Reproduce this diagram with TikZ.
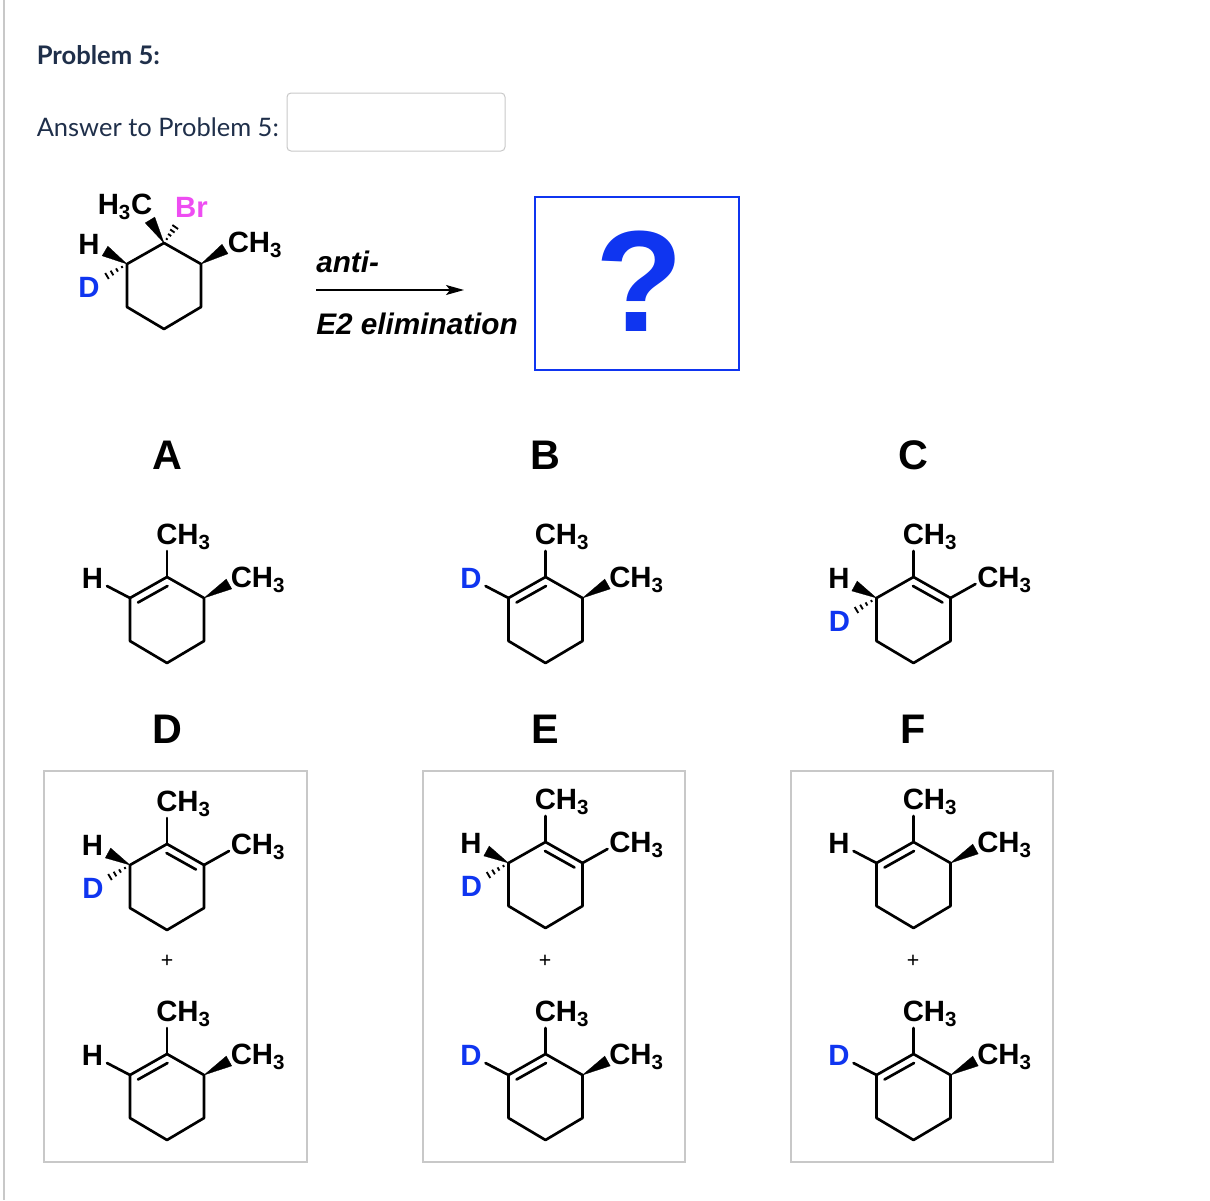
\documentclass[tikz,border=0pt]{standalone}
\usepackage{fontspec}
\setmainfont{Liberation Sans}
\newfontfamily\latofont{Lato}
\usetikzlibrary{arrows.meta, calc}
\definecolor{inkblue}{HTML}{1F2F4A}
\definecolor{deut}{HTML}{0F35F0}
\definecolor{brom}{HTML}{EE4DF2}
\definecolor{panel}{HTML}{C8C8C8}
\tikzset{
  bond/.style={line width=2pt, line join=round, line cap=round},
  wedge/.style={fill=black, draw=black, line width=0.2pt},
  hashbond/.style={line width=1.4pt},
  atom/.style={font=\fontsize{22}{22}\selectfont\bfseries, inner sep=0pt, anchor=center},
  letter/.style={font=\fontsize{31}{31}\selectfont\bfseries, inner sep=0pt},
  panelbox/.style={draw=panel, line width=0.9pt},
}
% bold wedge: narrow end at #1, wide end at #2
\newcommand{\wedgebond}[2]{
  \fill[wedge] (#1) -- ($(#2)!4.2pt!90:(#1)$) -- ($(#2)!4.2pt!-90:(#1)$) -- cycle;
}
% hashed wedge
\newcommand{\hashwedge}[2]{
  \foreach \t/\w in {0.2/0.8, 0.4/1.4, 0.6/2, 0.8/2.6, 1/3.2}{
    \draw[hashbond] ($(#1)!\t!(#2)!\w pt!90:(#2)$) -- ($(#1)!\t!(#2)!\w pt!-90:(#2)$);
  }
}
% bare ring, atoms a..f from the top clockwise
\newcommand{\ringcore}[1]{
  \coordinate (#1a) at (0,0);
  \coordinate (#1b) at (37,21);
  \coordinate (#1c) at (37,64);
  \coordinate (#1d) at (0,86);
  \coordinate (#1e) at (-37,64);
  \coordinate (#1f) at (-37,21);
  \draw[bond] (#1a) -- (#1b) -- (#1c) -- (#1d) -- (#1e) -- (#1f) -- cycle;
}
% #1 name, #2 x, #3 y, #4 double bond side, #5 left group, #6 wedge on the right
\newcommand{\product}[6]{
  \begin{scope}[shift={(#2,#3)}]
    \ringcore{#1}
    \ifnum#4=0
      \draw[bond] (-29,25.5) -- (0.5,9);
    \else
      \draw[bond] (-0.5,9) -- (29,25.5);
    \fi
    \coordinate (#1m) at (0,-26);
    \draw[bond] (#1a) -- (#1m);
    \node[atom] (#1top) at (16.5,-40) {CH\textsubscript{3}};
    \node[atom] (#1rgt) at (91,3) {CH\textsubscript{3}};
    \coordinate (#1rb) at (62,7);
    \ifnum#6=1
      \wedgebond{#1b}{#1rb}
    \else
      \draw[bond] (#1b) -- (#1rb);
    \fi
    \ifnum#5=0
      \node[atom] (#1h) at (-74.5,1) {H};
      \coordinate (#1lb) at (-60,9);
      \draw[bond] (#1f) -- (#1lb);
    \fi
    \ifnum#5=1
      \node[atom, text=deut] (#1h) at (-74.5,1) {D};
      \coordinate (#1lb) at (-60,9);
      \draw[bond] (#1f) -- (#1lb);
    \fi
    \ifnum#5=2
      \node[atom] (#1h) at (-74.5,1) {H};
      \node[atom, text=deut] (#1d2) at (-74,44.5) {D};
      \coordinate (#1lb) at (-59,9);
      \coordinate (#1hb) at (-62,36);
      \wedgebond{#1f}{#1lb}
      \hashwedge{#1f}{#1hb}
    \fi
  \end{scope}
}
\begin{document}
\begin{tikzpicture}[x=0.75pt, y=-0.75pt]
\useasboundingbox (0,0) rectangle (1210,1200);
\draw[panel, line width=0.9pt] (4,0) -- (4,1200);
% header
\node[anchor=west, inner sep=0pt, text=inkblue, font=\latofont\bfseries\fontsize{19.2}{19}\selectfont] (title) at (36.5,55) {Problem 5:};
\node[anchor=west, inner sep=0pt, text=inkblue, font=\latofont\fontsize{19.1}{19}\selectfont] (answer) at (36.5,127) {Answer to Problem 5:};
\draw[panel, line width=0.75pt, rounded corners=3pt] (287,93) rectangle (505,151);
% starting material
\begin{scope}[shift={(164,243)}]
  \ringcore{s}
  \node[atom] (sme) at (-39,-36) {H\textsubscript{3}C};
  \node[atom, text=brom] (sbr) at (27.5,-36) {Br};
  \node[atom] (sch) at (91,2) {CH\textsubscript{3}};
  \node[atom] (sh) at (-75,1) {H};
  \node[atom, text=deut] (sd) at (-75,44.5) {D};
  \coordinate (sw1) at (-14,-23);
  \coordinate (sw2) at (14,-20);
  \coordinate (sw3) at (61,6);
  \coordinate (sw4) at (-59,8);
  \coordinate (sw5) at (-62,36);
  \wedgebond{sa}{sw1}
  \hashwedge{sa}{sw2}
  \wedgebond{sb}{sw3}
  \wedgebond{sf}{sw4}
  \hashwedge{sf}{sw5}
\end{scope}
% reaction arrow
\node[anchor=west, inner sep=0pt, font=\bfseries\itshape\fontsize{22.3}{22}\selectfont] (anti) at (316,262) {anti-};
\node[anchor=west, inner sep=0pt, font=\bfseries\itshape\fontsize{22.3}{22}\selectfont] (elim) at (316,324) {E2 elimination};
\coordinate (arrs) at (316,290);
\coordinate (arre) at (464,290);
\draw[line width=1pt, -{Stealth[length=13.5pt,width=7.5pt,inset=3pt]}] (arrs) -- (arre);
\draw[deut, line width=1.2pt] (535,197) rectangle (739,370);
\node[text=deut, inner sep=0pt, font=\bfseries\fontsize{108}{108}\selectfont] (ask) at (639,281) {?};
% option letters
\foreach \n/\lbl/\x/\y in {la/A/167/455, lb/B/545/455, lc/C/913/455, ld/D/167/729, le/E/545/729, lf/F/913/729}{
  \node[letter] (\n) at (\x,\y) {\lbl};
}
% panels
\draw[panelbox] (44,771) rectangle (307,1162);
\draw[panelbox] (423,771) rectangle (685,1162);
\draw[panelbox] (791,771) rectangle (1053,1162);
\foreach \n/\x in {pd/167, pe/545, pf/913}{
  \node[inner sep=0pt, font=\fontsize{16}{16}\selectfont] (\n) at (\x,961) {+};
}
% products
\product{a}{167}{577}{0}{0}{1}
\product{b}{545.5}{577}{0}{1}{1}
\product{c}{913.5}{577}{1}{2}{0}
\product{d}{167}{844}{1}{2}{0}
\product{e}{545.5}{842}{1}{2}{0}
\product{f}{913.5}{842}{0}{0}{1}
\product{g}{167}{1054}{0}{0}{1}
\product{h}{545.5}{1054}{0}{1}{1}
\product{i}{913.5}{1054}{0}{1}{1}
\end{tikzpicture}
\end{document}
